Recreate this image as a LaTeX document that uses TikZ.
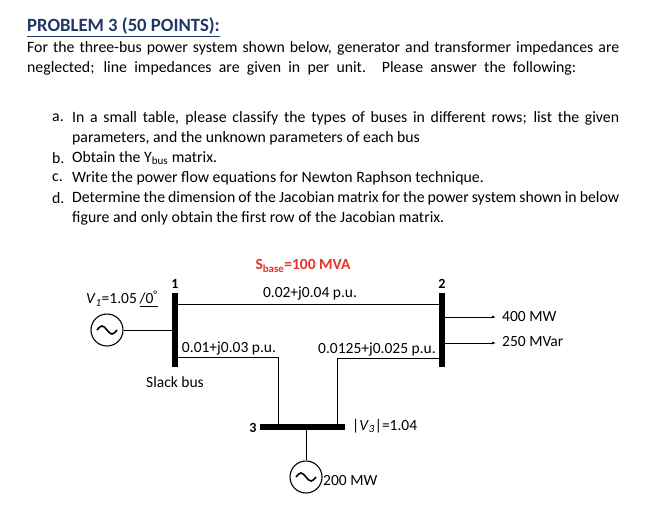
\documentclass[tikz,border=0pt]{standalone}
\usepackage{fontspec}
\setmainfont{Carlito}
\usetikzlibrary{arrows.meta}
\definecolor{ttl}{RGB}{31,56,100}
\definecolor{rd}{RGB}{230,50,40}
\begin{document}
\begin{tikzpicture}[x=1pt,y=-1pt,
  txt/.style={anchor=west,inner sep=0pt,font=\fontsize{15.8}{20}\selectfont},
  lbl/.style={inner sep=0pt,font=\fontsize{15.5}{18}\selectfont},
  busbar/.style={line width=5.5pt},
  wire/.style={line width=0.9pt},
  gen/.style={circle,draw,line width=1.1pt,minimum size=32pt,inner sep=0pt,
    path picture={\draw[line width=1.6pt] ([xshift=-10pt]path picture bounding box.center)
      sin +(5pt,4pt) cos +(5pt,-4pt) sin +(5pt,-4pt) cos +(5pt,4pt);}}]
\useasboundingbox (0,0) rectangle (656,512);
\node[txt,font=\fontsize{18.7}{22}\selectfont\bfseries,text=ttl] (t) at (27,27) {\underline{PROBLEM 3 (50 POINTS):}};
\node[txt] (p1) at (27,48) {\makebox[592pt][s]{For the three-bus power system shown below, generator and transformer impedances are}};
\node[txt] (p2) at (27,68) {\makebox[549pt][s]{neglected; line impedances are given in per unit. Please answer the following:}};
\node[txt] (la) at (52,118) {a.};
\node[txt] (a1) at (72,118) {\makebox[547pt][s]{In a small table, please classify the types of buses in different rows; list the given}};
\node[txt] (a2) at (72,138) {parameters, and the unknown parameters of each bus};
\node[txt] (lb) at (52,158) {b.};
\node[txt] (b1) at (72,158) {Obtain the Y\textsubscript{bus} matrix.};
\node[txt] (lc) at (52,178) {c.};
\node[txt] (c1) at (72,178) {Write the power flow equations for Newton Raphson technique.};
\node[txt] (ld) at (52,198) {d.};
\node[txt] (d1) at (72,198) {\makebox[547pt][s]{Determine the dimension of the Jacobian matrix for the power system shown in below}};
\node[txt] (d2) at (72,218) {figure and only obtain the first row of the Jacobian matrix.};
% buses
\coordinate (b1t) at (175,293); \coordinate (b1b) at (175,367);
\coordinate (b2t) at (442,293); \coordinate (b2b) at (442,367);
\coordinate (b3l) at (260,427); \coordinate (b3r) at (345,427);
\draw[busbar] (b1t) -- (b1b);
\draw[busbar] (b2t) -- (b2b);
\draw[busbar] (b3l) -- (b3r);
\node[lbl,font=\fontsize{14}{15}\selectfont\bfseries] (n1) at (175,284) {1};
\node[lbl,font=\fontsize{14}{15}\selectfont\bfseries] (n2) at (442,284) {2};
\node[lbl,font=\fontsize{14}{15}\selectfont\bfseries] (n3) at (253,428) {3};
% lines
\coordinate (a) at (175,304); \coordinate (b) at (442,304);
\draw[wire] (a) -- (b);
\coordinate (c) at (175,357); \coordinate (c1) at (278,357); \coordinate (c2) at (278,427);
\draw[wire] (c) -- (c1) -- (c2);
\coordinate (e) at (442,358); \coordinate (e1) at (337,358); \coordinate (e2) at (337,427);
\draw[wire] (e) -- (e1) -- (e2);
% generators
\node[gen] (g1) at (107,330) {};
\coordinate (g1b) at (175,330);
\draw[wire] (g1) -- (g1b);
\node[gen] (g3) at (306,477) {};
\coordinate (g3b) at (306,427);
\draw[wire] (g3b) -- (g3);
% loads
\coordinate (l1s) at (442,317); \coordinate (l1e) at (496,317);
\coordinate (l2s) at (442,343); \coordinate (l2e) at (496,343);
\draw[wire,-{Latex[length=4pt,width=3pt]}] (l1s) -- (l1e);
\draw[wire,-{Latex[length=4pt,width=3pt]}] (l2s) -- (l2e);
\node[lbl,anchor=west] (pl) at (502,317) {400 MW};
\node[lbl,anchor=west] (ql) at (502,342) {250 MVar};
% labels
\node[lbl,font=\fontsize{15.5}{18}\selectfont\bfseries,text=rd] (sb) at (303,266) {S\textsubscript{base}=100 MVA};
\node[lbl] (z12) at (310,293) {0.02+j0.04 p.u.};
\node[lbl] (z13) at (229,348) {0.01+j0.03 p.u.};
\node[lbl] (z23) at (377,349) {0.0125+j0.025 p.u.};
\node[lbl,anchor=west] (v1) at (86,299) {\textit{V}\textsubscript{\textit{1}}=1.05\,\underline{/0\textsuperscript{\textdegree}}};
\node[lbl] (sl) at (175,382) {Slack bus};
\node[lbl,anchor=west] (v3) at (352,426) {|\textit{V}\textsubscript{\textit{3}}|=1.04};
\node[lbl,anchor=west] (pg) at (323,481) {200 MW};
\end{tikzpicture}
\end{document}
